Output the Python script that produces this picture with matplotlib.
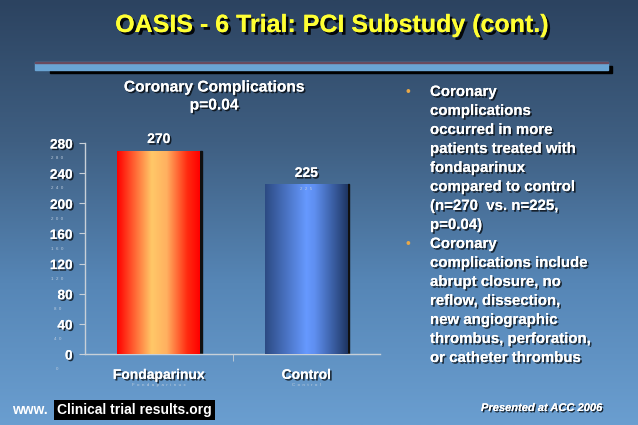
import numpy as np
import matplotlib
matplotlib.use("Agg")
import matplotlib.pyplot as plt
import matplotlib.patheffects as pe
from matplotlib.colors import LinearSegmentedColormap
from matplotlib.patches import Rectangle

# data
categories = ["Fondaparinux", "Control"]
values = [270, 225]
yticks = [0, 40, 80, 120, 160, 200, 240, 280]
chart_title = "Coronary Complications\np=0.04"
slide_title = "OASIS - 6 Trial: PCI Substudy (cont.)"
bullets = [
    ["Coronary", "complications", "occurred in more", "patients treated with",
     "fondaparinux", "compared to control", "(n=270  vs. n=225,", "p=0.04)"],
    ["Coronary", "complications include", "abrupt closure, no", "reflow, dissection,",
     "new angiographic", "thrombus, perforation,", "or catheter thrombus"],
]

plt.rcParams['font.family'] = ['Liberation Sans', 'DejaVu Sans']
fig = plt.figure(figsize=(6.38, 4.25), dpi=100)

# background gradient
bg = fig.add_axes([0, 0, 1, 1])
bg_cmap = LinearSegmentedColormap.from_list("bg", ["#2c4360", "#3f5f82", "#5686b6", "#6a9ed0"])
bg.imshow(np.linspace(0, 1, 256).reshape(-1, 1), aspect='auto', cmap=bg_cmap,
          extent=[0, 1, 0, 1], origin='upper')
bg.set_xlim(0, 1)
bg.set_ylim(0, 1)
bg.axis('off')

shadow = [pe.withSimplePatchShadow(offset=(1.2, -1.2), shadow_rgbFace='black', alpha=0.7), pe.Normal()]

# slide title
fig.text(0.52, 1 - 25 / 425, slide_title, ha='center', va='center', fontsize=18, fontweight='bold',
         color='#ffff33',
         path_effects=[pe.withSimplePatchShadow(offset=(2, -2), shadow_rgbFace='black', alpha=0.9),
                       pe.Normal()])
# separator bar
bg.add_patch(Rectangle((50 / 638, 1 - 73 / 425), 562 / 638, 7 / 425, color='black', zorder=2))
bg.add_patch(Rectangle((35 / 638, 1 - 70 / 425), 573 / 638, 8 / 425, color='#6aa4d4', zorder=3))
bg.add_patch(Rectangle((35 / 638, 1 - 62.5 / 425), 573 / 638, 0.8 / 425, color='#6a4a5e', zorder=4))

# bar chart
ax = fig.add_axes([85 / 638, 1 - 354 / 425, 295 / 638, 211 / 425])
ax.patch.set_alpha(0)
x = np.arange(len(categories))
bars = ax.bar(x, values, width=0.56, color='none', edgecolor='none', zorder=3)

bar_cmaps = [
    LinearSegmentedColormap.from_list("r", [(0, "#ff0000"), (0.42, "#ffc868"), (0.6, "#ffb060"),
                                            (0.85, "#ff2a10"), (1, "#ff0000")]),
    LinearSegmentedColormap.from_list("b", [(0, "#2c4a82"), (0.5, "#6699ff"), (0.6, "#5f8ff0"),
                                            (0.9, "#2e4d88"), (1, "#1e3562")]),
]
grad = np.linspace(0, 1, 256).reshape(1, -1)
for b, cm in zip(bars, bar_cmaps):
    x0, w, h = b.get_x(), b.get_width(), b.get_height()
    # dark edge on the right
    ax.add_patch(Rectangle((x0 + w, 0), 0.01, h, color='#101010', zorder=2))
    im = ax.imshow(grad, aspect='auto', cmap=cm, extent=[x0, x0 + w, 0, h], zorder=3)
    im.set_clip_path(b)

ax.set_xlim(-0.5, 1.5)
ax.set_ylim(0, 280)
for s in ['top', 'right']:
    ax.spines[s].set_visible(False)
for s in ['left', 'bottom']:
    ax.spines[s].set_color('#c8d0d8')
    ax.spines[s].set_linewidth(1)

ax.set_yticks(yticks)
ax.set_yticklabels([str(t) for t in yticks], fontsize=9.8, fontweight='bold', color='white')
ax.tick_params(axis='y', colors='#c8d0d8', labelcolor='white', length=4, pad=5)
ax.set_xticks(x)
ax.set_xticklabels(categories, fontsize=10, fontweight='bold', color='white')
ax.tick_params(axis='x', length=0, pad=10)
ax.set_xticks([0.5], minor=True)
ax.tick_params(axis='x', which='minor', length=5, colors='#c8d0d8')
for lab in ax.get_yticklabels() + ax.get_xticklabels():
    lab.set_path_effects(shadow)

# faint ghost labels
for t in yticks:
    ax.annotate("  ".join(str(t)), (0, t), xycoords=('axes fraction', 'data'),
                xytext=(-20, -11), textcoords='offset points', fontsize=3.2, color='#c0cede',
                ha='center', va='center', annotation_clip=False)
for xi, c in zip(x, categories):
    ax.annotate("  ".join(c), (xi, 0), xycoords='data', xytext=(0, -22), textcoords='offset points',
                fontsize=3.2, color='#c0cede', ha='center', va='center', annotation_clip=False)

for xi, v in zip(x, values):
    ax.text(xi, v + 6, str(v), ha='center', va='bottom', fontsize=10, fontweight='bold',
            color='white', path_effects=shadow)
ax.text(1, values[1] - 3, "  ".join(str(values[1])), ha='center', va='top', fontsize=3.2,
        color='#c0cede')

fig.text(214 / 638, 1 - 96 / 425, chart_title, ha='center', va='center', fontsize=11.2,
         fontweight='bold', color='white', linespacing=1.25, path_effects=shadow)

# bullet text
y = 92
for block in bullets:
    fig.text(408 / 638, 1 - y / 425, "•", ha='center', va='center', fontsize=10,
             color='#e8a848')
    for line in block:
        fig.text(430 / 638, 1 - y / 425, line, ha='left', va='center', fontsize=10.8,
                 fontweight='bold', color='white', path_effects=shadow)
        y += 19

# footer
fig.text(12 / 638, 1 - 410 / 425, "www.", ha='left', va='center', fontsize=10,
         fontweight='bold', color='white')
fig.text(57 / 638, 1 - 410 / 425, "Clinical trial results.org", ha='left', va='center',
         fontsize=10, fontweight='bold', color='white',
         bbox=dict(facecolor='black', edgecolor='none', pad=2.5))
fig.text(603 / 638, 1 - 408 / 425, "Presented at ACC 2006", ha='right', va='center',
         fontsize=8, fontweight='bold', style='italic', color='white',
         path_effects=[pe.withSimplePatchShadow(offset=(1, -1), shadow_rgbFace='black', alpha=0.8),
                       pe.Normal()])

fig.savefig("out.png", dpi=100)
